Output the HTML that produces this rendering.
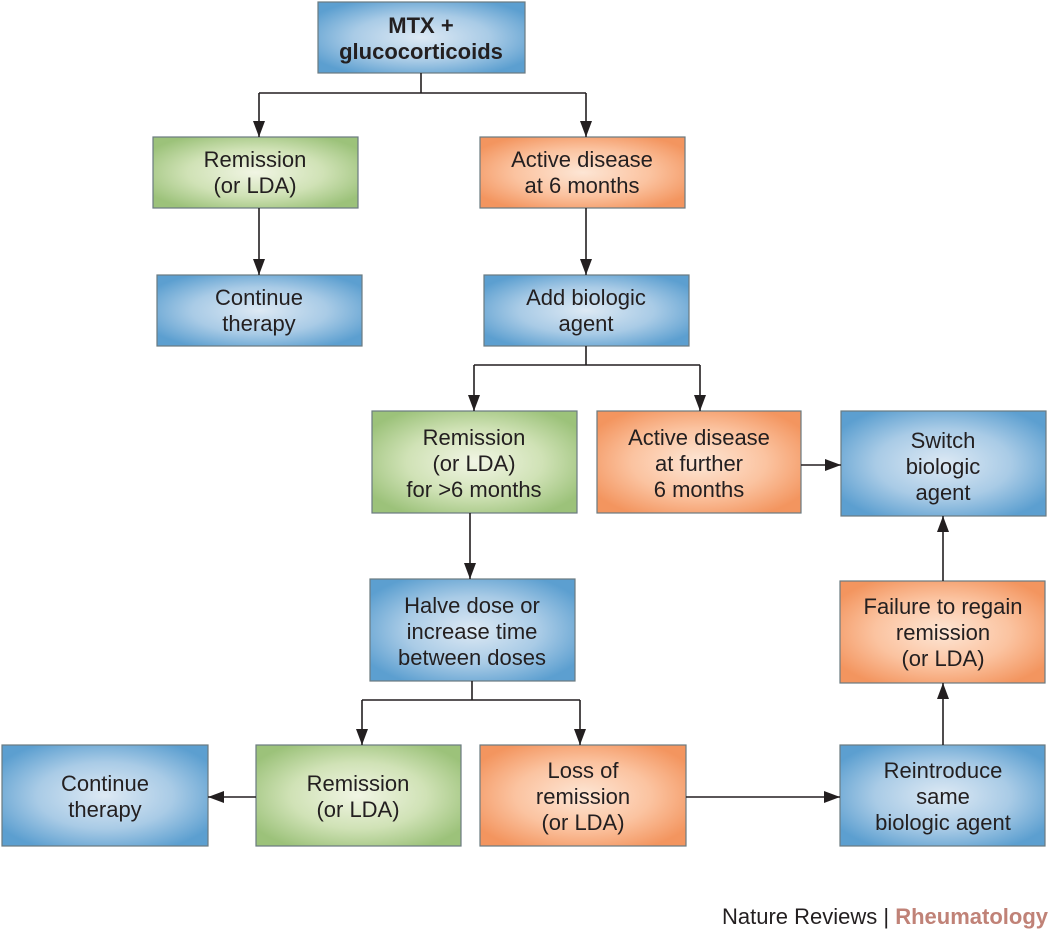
<!DOCTYPE html>
<html><head><meta charset="utf-8"><style>
html,body{margin:0;padding:0;background:#fff}
svg text{font-family:"Liberation Sans",sans-serif;font-size:22px;fill:#231f20;text-anchor:middle}
</style></head><body>
<svg width="1050" height="934" viewBox="0 0 1050 934" xmlns="http://www.w3.org/2000/svg">
<defs>
<radialGradient id="b" cx="50%" cy="50%" r="60%"><stop offset="0" stop-color="#dde9f4"/><stop offset="0.55" stop-color="#a9cbe6"/><stop offset="1" stop-color="#5c9fd0"/></radialGradient>
<radialGradient id="g" cx="50%" cy="50%" r="60%"><stop offset="0" stop-color="#f1f5e4"/><stop offset="0.55" stop-color="#d0e2b6"/><stop offset="1" stop-color="#9cc27a"/></radialGradient>
<radialGradient id="o" cx="50%" cy="50%" r="60%"><stop offset="0" stop-color="#fde6d5"/><stop offset="0.55" stop-color="#fbc3a0"/><stop offset="1" stop-color="#f3955f"/></radialGradient>
<marker id="a" markerWidth="16" markerHeight="12" refX="16" refY="6" orient="auto" markerUnits="userSpaceOnUse" viewBox="0 0 16 12"><path d="M0,0 L16,6 L0,12z" fill="#231f20"/></marker>
</defs>
<g stroke="#6a7a80" stroke-width="1.2">
<rect x="318" y="2" width="207" height="71" fill="url(#b)"/>
<rect x="153" y="137" width="205" height="71" fill="url(#g)"/>
<rect x="480" y="137" width="205" height="71" fill="url(#o)"/>
<rect x="157" y="275" width="205" height="71" fill="url(#b)"/>
<rect x="484" y="275" width="205" height="71" fill="url(#b)"/>
<rect x="372" y="411" width="205" height="102" fill="url(#g)"/>
<rect x="597" y="411" width="204" height="102" fill="url(#o)"/>
<rect x="841" y="411" width="205" height="105" fill="url(#b)"/>
<rect x="370" y="579" width="205" height="102" fill="url(#b)"/>
<rect x="840" y="581" width="205" height="102" fill="url(#o)"/>
<rect x="2" y="745" width="206" height="101" fill="url(#b)"/>
<rect x="256" y="745" width="205" height="101" fill="url(#g)"/>
<rect x="480" y="745" width="206" height="101" fill="url(#o)"/>
<rect x="840" y="745" width="205" height="101" fill="url(#b)"/>
</g>
<g stroke="#231f20" stroke-width="1.6" fill="none">
<path d="M421,73V93M259,93H586"/>
<path d="M259,93V137" marker-end="url(#a)"/><path d="M586,93V137" marker-end="url(#a)"/>
<path d="M259,208V275" marker-end="url(#a)"/>
<path d="M586,208V275" marker-end="url(#a)"/>
<path d="M586,346V365M474,365H700"/>
<path d="M474,365V411" marker-end="url(#a)"/><path d="M700,365V411" marker-end="url(#a)"/>
<path d="M801,465H841" marker-end="url(#a)"/>
<path d="M470,513V579" marker-end="url(#a)"/>
<path d="M472,681V700M362,700H580"/>
<path d="M362,700V745" marker-end="url(#a)"/><path d="M580,700V745" marker-end="url(#a)"/>
<path d="M256,797H208" marker-end="url(#a)"/>
<path d="M686,797H840" marker-end="url(#a)"/>
<path d="M943,745V683" marker-end="url(#a)"/>
<path d="M943,581V516" marker-end="url(#a)"/>
</g>
<text x="421" y="33" font-weight="bold">MTX +</text><text x="421" y="59" font-weight="bold">glucocorticoids</text>
<text x="255" y="167">Remission</text><text x="255" y="193">(or LDA)</text>
<text x="582" y="167">Active disease</text><text x="582" y="193">at 6 months</text>
<text x="259" y="305">Continue</text><text x="259" y="331">therapy</text>
<text x="586" y="305">Add biologic</text><text x="586" y="331">agent</text>
<text x="474" y="445">Remission</text><text x="474" y="471">(or LDA)</text><text x="474" y="497">for &gt;6 months</text>
<text x="699" y="445">Active disease</text><text x="699" y="471">at further</text><text x="699" y="497">6 months</text>
<text x="943" y="448">Switch</text><text x="943" y="474">biologic</text><text x="943" y="500">agent</text>
<text x="472" y="613">Halve dose or</text><text x="472" y="639">increase time</text><text x="472" y="665">between doses</text>
<text x="943" y="614">Failure to regain</text><text x="943" y="640">remission</text><text x="943" y="666">(or LDA)</text>
<text x="105" y="791">Continue</text><text x="105" y="817">therapy</text>
<text x="358" y="791">Remission</text><text x="358" y="817">(or LDA)</text>
<text x="583" y="778">Loss of</text><text x="583" y="804">remission</text><text x="583" y="830">(or LDA)</text>
<text x="943" y="778">Reintroduce</text><text x="943" y="804">same</text><text x="943" y="830">biologic agent</text>
<text x="1048" y="924" style="text-anchor:end;font-size:22px"><tspan fill="#231f20">Nature Reviews</tspan><tspan fill="#231f20"> | </tspan><tspan fill="#c08277" font-weight="bold">Rheumatology</tspan></text>
</svg>
</body></html>
